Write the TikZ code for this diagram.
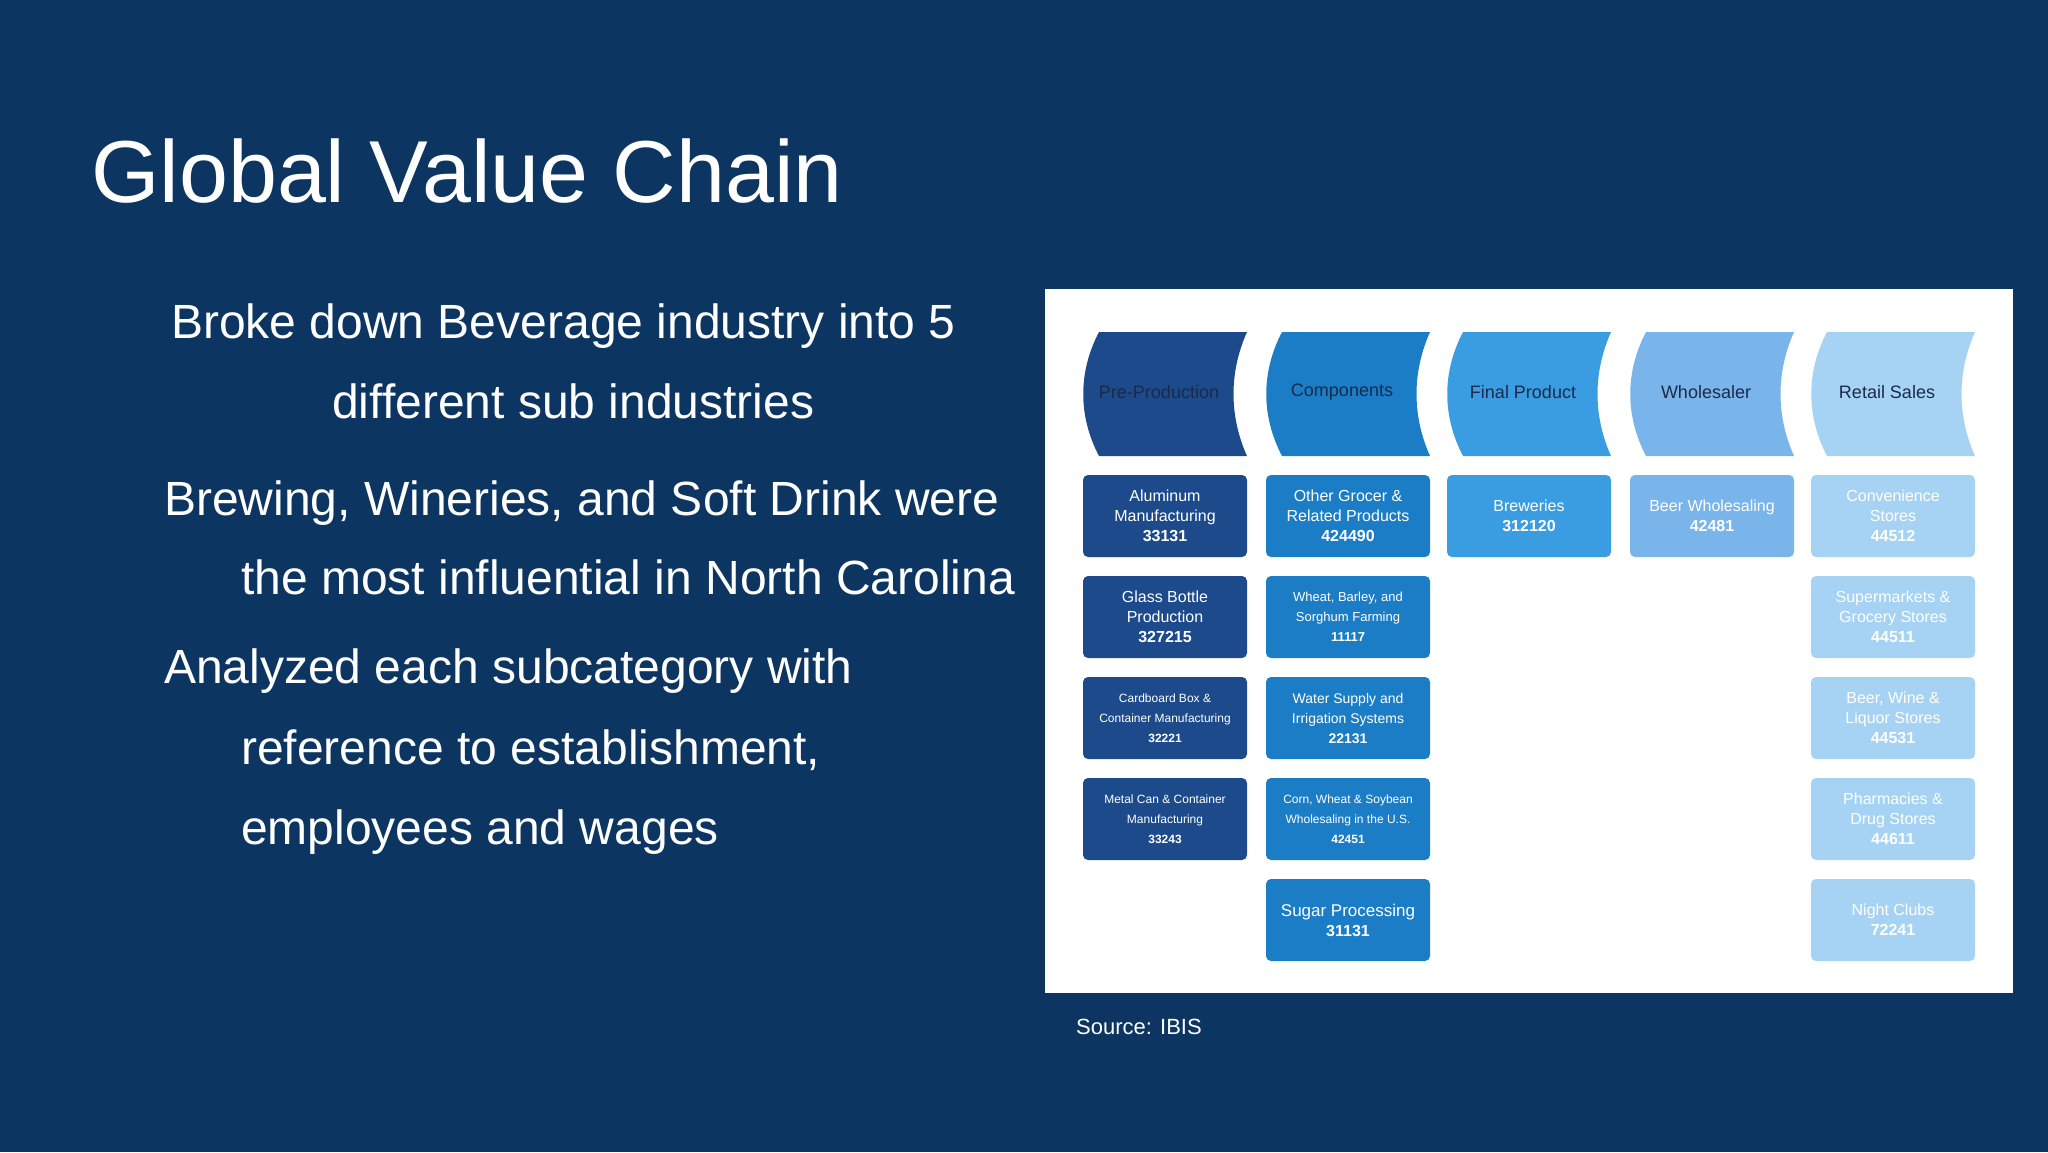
\documentclass[tikz,border=0pt]{standalone}
\usepackage{fontspec}
\setmainfont{Liberation Sans}
\definecolor{bg}{HTML}{0C3562}
\definecolor{cA}{HTML}{1C4A8A}
\definecolor{cB}{HTML}{1A7DC6}
\definecolor{cC}{HTML}{3A9DE2}
\definecolor{cD}{HTML}{79B5EA}
\definecolor{cE}{HTML}{A6D3F4}
\definecolor{hdtext}{HTML}{1A2A4A}
\tikzset{
 bullet/.style={anchor=base west,text=white,font=\fontsize{48}{58}\selectfont,inner sep=0},
 cell/.style={rounded corners=5pt,draw=none},
 celltext/.style={text=white,align=center,font=\fontsize{16}{20}\selectfont,inner sep=0},
 hdtxt/.style={text=hdtext,font=\fontsize{18}{22}\selectfont,inner sep=0}
}
\begin{document}
\begin{tikzpicture}[x=1pt,y=-1pt]
\useasboundingbox (0,0) rectangle (2048,1152);
\fill[bg] (0,0) rectangle (2048,1152);
\node[bullet,font=\fontsize{88}{100}\selectfont] (title) at (91,202) {Global Value Chain};
\node[bullet] (l1) at (171,338) {Broke down Beverage industry into 5};
\node[bullet] (l2) at (332,418) {different sub industries};
\node[bullet] (l3) at (164,515) {Brewing, Wineries, and Soft Drink were};
\node[bullet] (l4) at (241,594) {the most influential in North Carolina};
\node[bullet] (l5) at (164,683) {Analyzed each subcategory with};
\node[bullet] (l6) at (241,764) {reference to establishment,};
\node[bullet] (l7) at (241,844) {employees and wages};
\fill[white] (1045,289) rectangle (2013,993);
\node[anchor=base west,text=white,font=\fontsize{22}{26}\selectfont,inner sep=0] (src) at (1076,1034) {Source: IBIS};
% headers
\foreach \x/\c/\t [count=\i] in {1083/cA/Pre-Production,1266/cB/Components,1447/cC/Final Product,1630/cD/Wholesaler,1811/cE/Retail Sales}{
 \fill[\c] (\x+16,332) -- (\x+164,332) .. controls (\x+146,372) and (\x+146,416) .. (\x+164,456) -- (\x+16,456) .. controls (\x-5,416) and (\x-5,372) .. (\x+16,332);
 \node[hdtxt] (h\i) at (\x+76,392) {\t};
}
% cells
\newcommand{\cellbox}[5]{% x, row, colour, name, text
 \fill[cell,#3] (#1,475+101*#2) rectangle ++(164,82);
 \node[celltext] (#4) at (#1+82,516+101*#2) {#5};}
\cellbox{1083}{0}{cA}{a1}{Aluminum\\Manufacturing\\\textbf{33131}}
\cellbox{1083}{1}{cA}{a2}{Glass Bottle\\Production\\\textbf{327215}}
\cellbox{1083}{2}{cA}{a3}{\fontsize{12}{16}\selectfont Cardboard Box \&\\\fontsize{12}{16}\selectfont Container Manufacturing\\\fontsize{12}{16}\selectfont\textbf{32221}}
\cellbox{1083}{3}{cA}{a4}{\fontsize{12}{16}\selectfont Metal Can \& Container\\\fontsize{12}{16}\selectfont Manufacturing\\\fontsize{12}{16}\selectfont\textbf{33243}}
\cellbox{1266}{0}{cB}{b1}{Other Grocer \&\\Related Products\\\textbf{424490}}
\cellbox{1266}{1}{cB}{b2}{\fontsize{13}{17}\selectfont Wheat, Barley, and\\\fontsize{13}{17}\selectfont Sorghum Farming\\\fontsize{13}{17}\selectfont\textbf{11117}}
\cellbox{1266}{2}{cB}{b3}{\fontsize{14}{18}\selectfont Water Supply and\\\fontsize{14}{18}\selectfont Irrigation Systems\\\fontsize{14}{18}\selectfont\textbf{22131}}
\cellbox{1266}{3}{cB}{b4}{\fontsize{12}{16}\selectfont Corn, Wheat \& Soybean\\\fontsize{12}{16}\selectfont Wholesaling in the U.S.\\\fontsize{12}{16}\selectfont\textbf{42451}}
\cellbox{1266}{4}{cB}{b5}{\fontsize{17}{22}\selectfont Sugar Processing\\\textbf{31131}}
\cellbox{1447}{0}{cC}{c1}{Breweries\\\textbf{312120}}
\cellbox{1630}{0}{cD}{d1}{Beer Wholesaling\\\textbf{42481}}
\cellbox{1811}{0}{cE}{e1}{Convenience\\Stores\\\textbf{44512}}
\cellbox{1811}{1}{cE}{e2}{Supermarkets \&\\Grocery Stores\\\textbf{44511}}
\cellbox{1811}{2}{cE}{e3}{Beer, Wine \&\\Liquor Stores\\\textbf{44531}}
\cellbox{1811}{3}{cE}{e4}{Pharmacies \&\\Drug Stores\\\textbf{44611}}
\cellbox{1811}{4}{cE}{e5}{Night Clubs\\\textbf{72241}}
\end{tikzpicture}
\end{document}
